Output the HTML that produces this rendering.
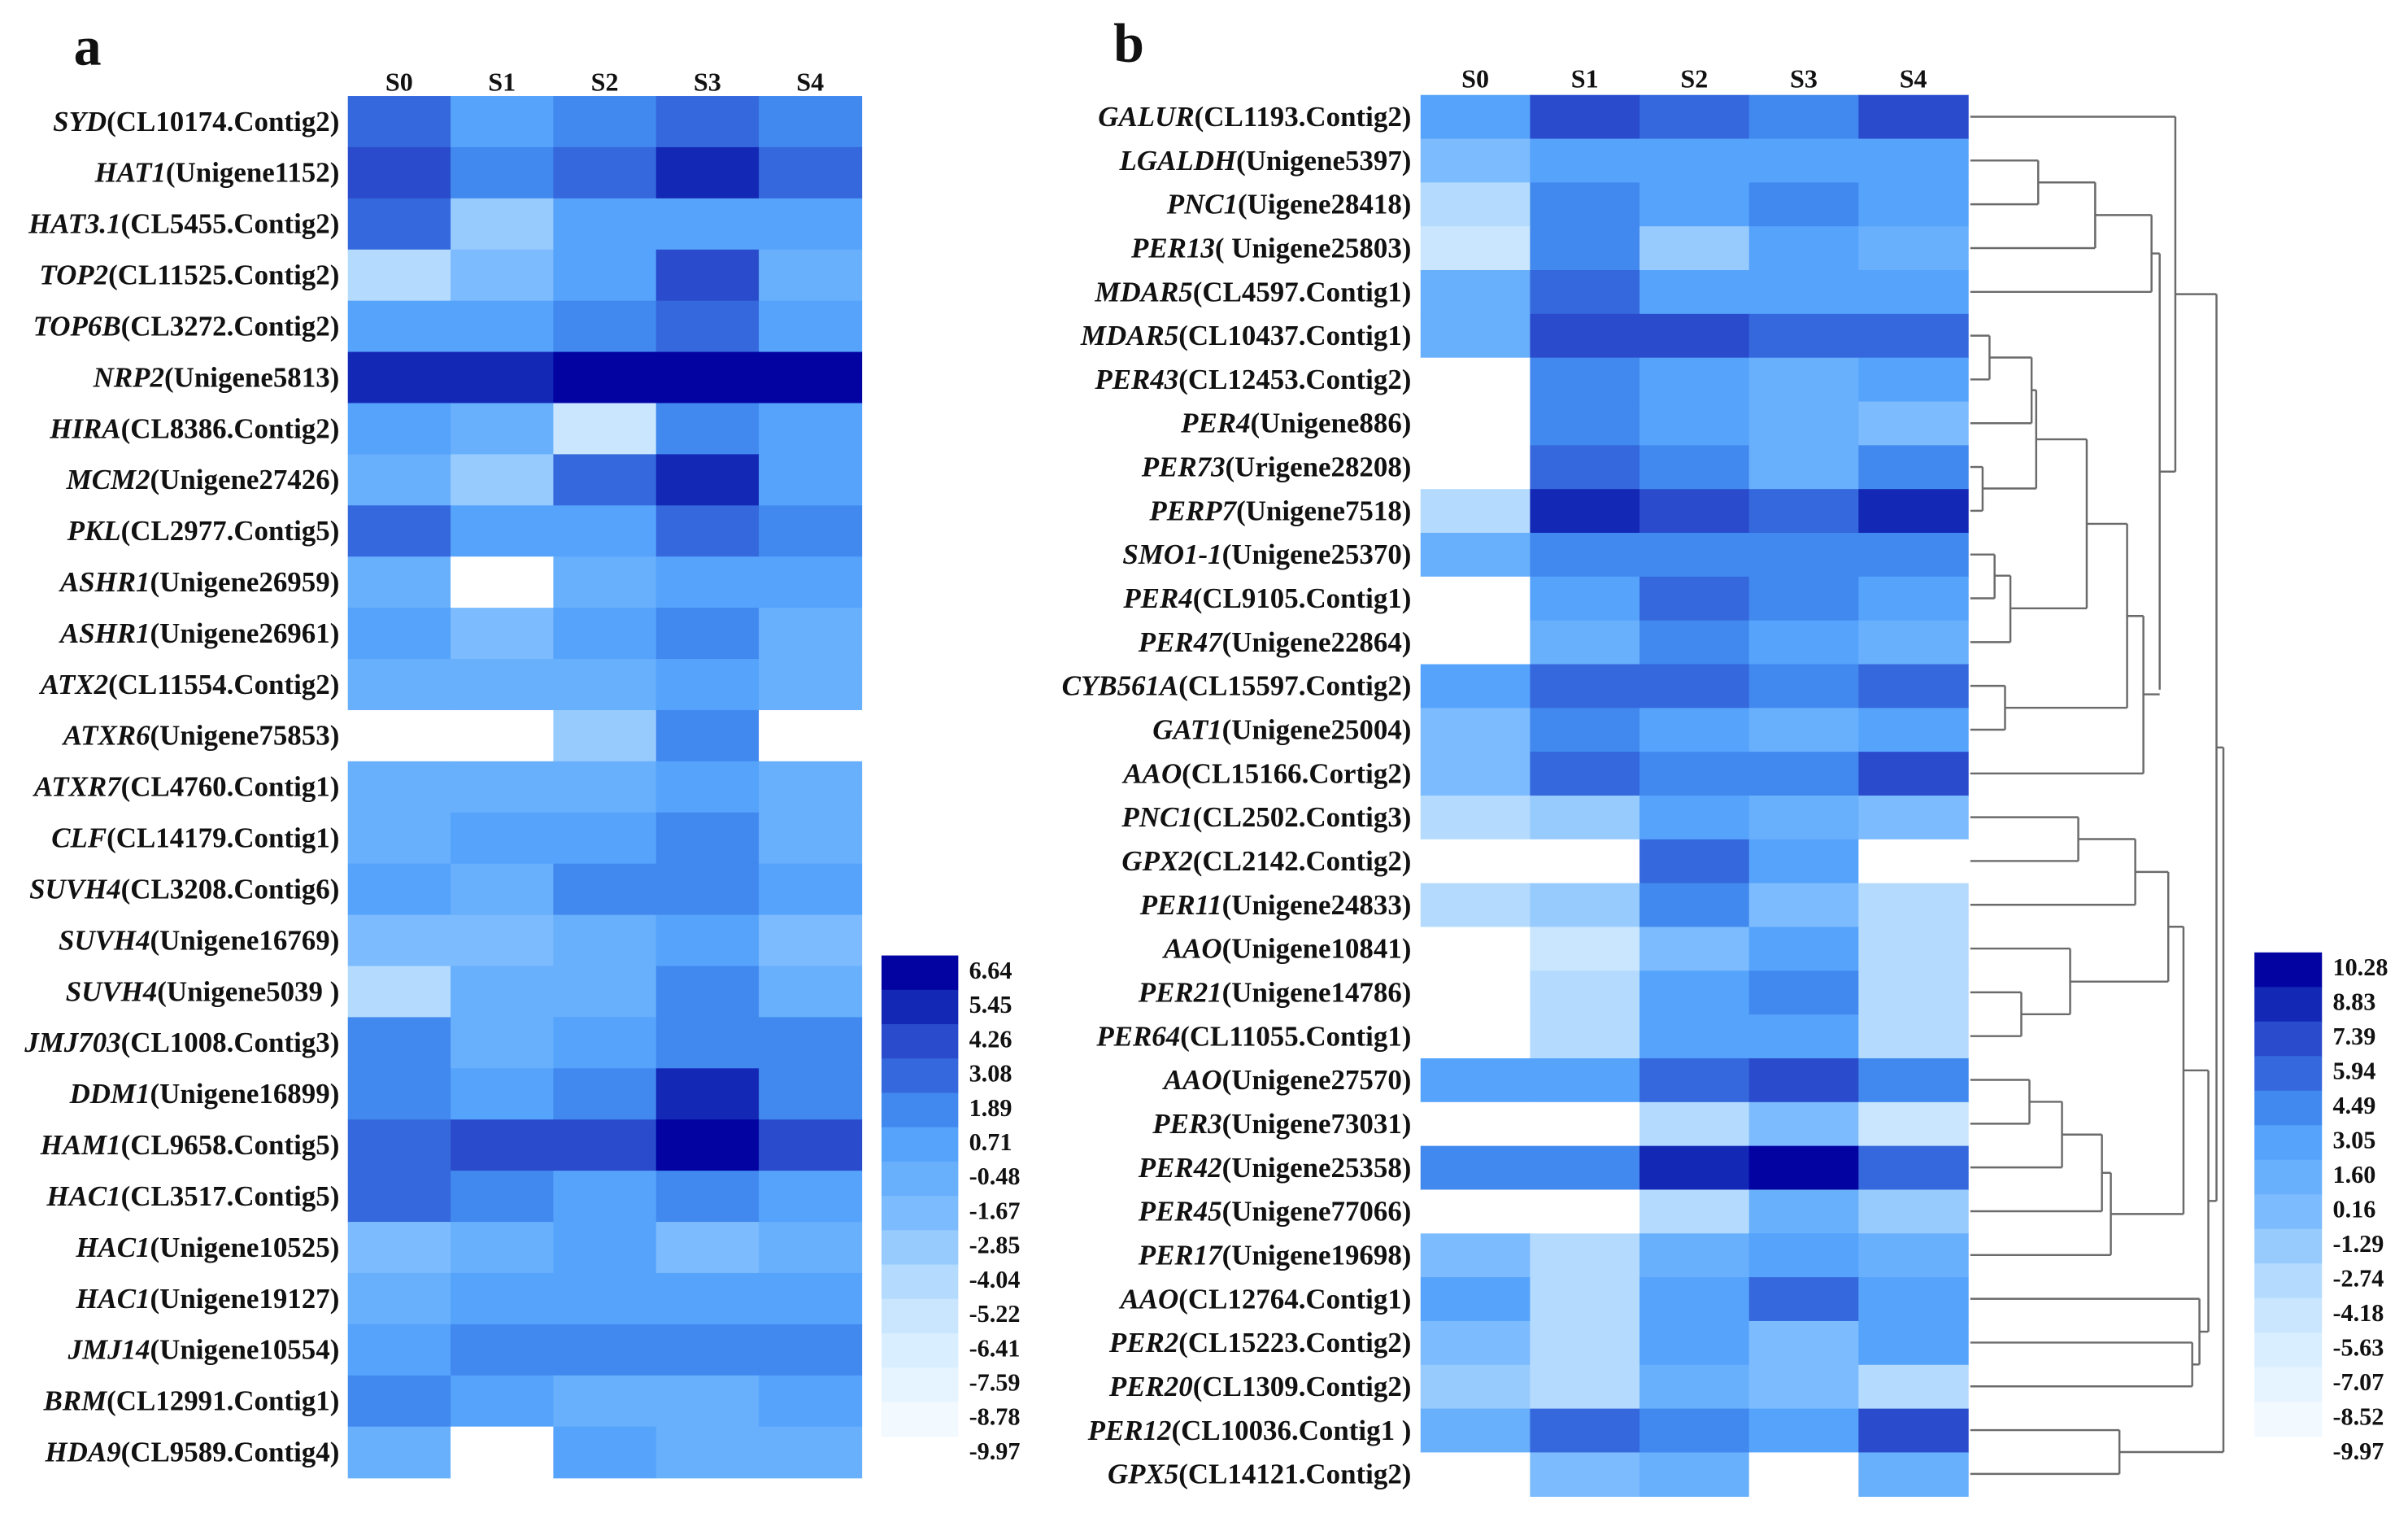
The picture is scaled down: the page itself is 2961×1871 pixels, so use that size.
<!DOCTYPE html>
<html><head><meta charset="utf-8"><style>
html,body{margin:0;padding:0;background:#fff;}
svg{display:block;}
text{font-family:"Liberation Serif",serif;font-weight:bold;fill:#111;}
</style></head><body>
<svg id="fig" xmlns="http://www.w3.org/2000/svg" width="2961" height="1871" viewBox="0 0 1568 990.8" preserveAspectRatio="none">
<rect width="1568" height="991" fill="#fff"/>
<text x="48" y="42" font-size="36">a</text>
<text x="725" y="40" font-size="36">b</text>
<g id="ga"></g>
<g id="gb"></g>
<g id="dendro" stroke="#6a6a6a" stroke-width="1.3" fill="none"></g>
</svg>
<script>
const NS="http://www.w3.org/2000/svg";
const samples=["S0","S1","S2","S3","S4"];
const palette=["#0303a2","#1428b6","#2a4ccc","#3568dc","#4189ee","#56a3fc","#68affc","#7cbbfd","#98cbfd","#b4dbfe","#c9e6fe","#d9eeff","#e6f4ff","#f2f9ff"];
const ticksA=[6.64,5.45,4.26,3.08,1.89,0.71,-0.48,-1.67,-2.85,-4.04,-5.22,-6.41,-7.59,-8.78,-9.97];
const ticksB=[10.28,8.83,7.39,5.94,4.49,3.05,1.60,0.16,-1.29,-2.74,-4.18,-5.63,-7.07,-8.52,-9.97];
const genesA=[["SYD","(CL10174.Contig2)"],["HAT1","(Unigene1152)"],["HAT3.1","(CL5455.Contig2)"],["TOP2","(CL11525.Contig2)"],["TOP6B","(CL3272.Contig2)"],["NRP2","(Unigene5813)"],["HIRA","(CL8386.Contig2)"],["MCM2","(Unigene27426)"],["PKL","(CL2977.Contig5)"],["ASHR1","(Unigene26959)"],["ASHR1","(Unigene26961)"],["ATX2","(CL11554.Contig2)"],["ATXR6","(Unigene75853)"],["ATXR7","(CL4760.Contig1)"],["CLF","(CL14179.Contig1)"],["SUVH4","(CL3208.Contig6)"],["SUVH4","(Unigene16769)"],["SUVH4","(Unigene5039 )"],["JMJ703","(CL1008.Contig3)"],["DDM1","(Unigene16899)"],["HAM1","(CL9658.Contig5)"],["HAC1","(CL3517.Contig5)"],["HAC1","(Unigene10525)"],["HAC1","(Unigene19127)"],["JMJ14","(Unigene10554)"],["BRM","(CL12991.Contig1)"],["HDA9","(CL9589.Contig4)"]];
// values in legend units (null = white / below range)
const valuesA=[
[2.5,0.1,1.3,2.5,1.3],[3.7,1.3,2.5,4.9,2.5],[2.5,-3.4,0.1,0.1,0.1],[-4.6,-2.3,0.1,3.7,-1.1],[0.1,0.1,1.3,2.5,0.1],
[4.9,4.9,6.0,6.0,6.0],[0.1,-1.1,-5.8,1.3,0.1],[-1.1,-3.4,2.5,4.9,0.1],[2.5,0.1,0.1,2.5,1.3],[-1.1,null,-1.1,0.1,0.1],
[0.1,-2.3,0.1,1.3,-1.1],[-1.1,-1.1,-1.1,0.1,-1.1],[null,null,-3.4,1.3,null],[-1.1,-1.1,-1.1,0.1,-1.1],[-1.1,0.1,0.1,1.3,-1.1],
[0.1,-1.1,1.3,1.3,0.1],[-2.3,-2.3,-1.1,0.1,-2.3],[-4.6,-1.1,-1.1,1.3,-1.1],[1.3,-1.1,0.1,1.3,1.3],[1.3,0.1,1.3,4.9,1.3],
[2.5,3.7,3.7,6.0,3.7],[2.5,1.3,0.1,1.3,0.1],[-2.3,-1.1,0.1,-2.3,-1.1],[-1.1,0.1,0.1,0.1,0.1],[0.1,1.3,1.3,1.3,1.3],
[1.3,0.1,-1.1,-1.1,0.1],[-1.1,null,0.1,-1.1,-1.1]];
const genesB=[["GALUR","(CL1193.Contig2)"],["LGALDH","(Unigene5397)"],["PNC1","(Uigene28418)"],["PER13","( Unigene25803)"],["MDAR5","(CL4597.Contig1)"],["MDAR5","(CL10437.Contig1)"],["PER43","(CL12453.Contig2)"],["PER4","(Unigene886)"],["PER73","(Urigene28208)"],["PERP7","(Unigene7518)"],["SMO1-1","(Unigene25370)"],["PER4","(CL9105.Contig1)"],["PER47","(Unigene22864)"],["CYB561A","(CL15597.Contig2)"],["GAT1","(Unigene25004)"],["AAO","(CL15166.Cortig2)"],["PNC1","(CL2502.Contig3)"],["GPX2","(CL2142.Contig2)"],["PER11","(Unigene24833)"],["AAO","(Unigene10841)"],["PER21","(Unigene14786)"],["PER64","(CL11055.Contig1)"],["AAO","(Unigene27570)"],["PER3","(Unigene73031)"],["PER42","(Unigene25358)"],["PER45","(Unigene77066)"],["PER17","(Unigene19698)"],["AAO","(CL12764.Contig1)"],["PER2","(CL15223.Contig2)"],["PER20","(CL1309.Contig2)"],["PER12","(CL10036.Contig1 )"],["GPX5","(CL14121.Contig2)"]];
const valuesB=[
[2.3,6.7,5.2,3.8,6.7],[-0.6,2.3,2.3,2.3,2.3],[-3.5,3.8,2.3,3.8,2.3],[-4.9,3.8,-2.0,2.3,0.9],[0.9,5.2,2.3,2.3,2.3],
[0.9,6.7,6.7,5.2,5.2],[null,3.8,2.3,0.9,2.3],[null,3.8,2.3,0.9,-0.6],[null,5.2,3.8,0.9,3.8],[-3.5,8.1,6.7,5.2,8.1],
[0.9,3.8,3.8,3.8,3.8],[null,2.3,5.2,3.8,2.3],[null,0.9,3.8,2.3,0.9],[2.3,5.2,5.2,3.8,5.2],[-0.6,3.8,2.3,0.9,2.3],
[-0.6,5.2,3.8,3.8,6.7],[-3.5,-2.0,2.3,0.9,-0.6],[null,null,5.2,2.3,null],[-3.5,-2.0,3.8,-0.6,-3.5],[null,-4.9,-0.6,2.3,-3.5],
[null,-3.5,2.3,3.8,-3.5],[null,-3.5,2.3,2.3,-3.5],[2.3,2.3,5.2,6.7,3.8],[null,null,-3.5,-0.6,-4.9],[3.8,3.8,8.1,9.6,5.2],
[null,null,-3.5,0.9,-2.0],[-0.6,-3.5,0.9,2.3,0.9],[2.3,-3.5,2.3,5.2,2.3],[-0.6,-3.5,2.3,-0.6,2.3],[-2.0,-3.5,0.9,-0.6,-3.5],
[0.9,5.2,3.8,2.3,6.7],[null,-0.6,0.9,null,0.9]];

function colorFor(v,ticks){
  if(v===null||v<ticks[ticks.length-1])return "#ffffff";
  for(let j=0;j<ticks.length-1;j++){ if(v>=ticks[j+1]) return palette[j]; }
  return "#ffffff";
}
function mk(tag,attrs,parent){const e=document.createElementNS(NS,tag);for(const k in attrs)e.setAttribute(k,attrs[k]);parent.appendChild(e);return e;}

function drawHeat(g,genes,values,ticks,cfg){
  const cw=(cfg.x1-cfg.x0)/samples.length, rh=(cfg.y1-cfg.y0)/genes.length;
  const xPos=i=>cfg.x0+i*cw, yPos=r=>cfg.y0+r*rh;
  samples.forEach((s,i)=>{
    const t=mk("text",{x:xPos(i)+cw/2,y:cfg.hy,"font-size":17,"text-anchor":"middle"},g);
    
    
    t.textContent=s;
  });
  genes.forEach((gn,r)=>{
    values[r].forEach((v,i)=>{
      const c=mk("rect",{x:xPos(i),y:yPos(r),width:cw+0.4,height:rh+0.4,fill:colorFor(v,ticks)},g);
      
      
    });
    const t=mk("text",{x:cfg.lx,y:yPos(r)+rh/2+6,"font-size":18.5,"text-anchor":"end"},g);
    
    
    const a=mk("tspan",{"font-style":"italic"},t);a.textContent=gn[0];
    const b=mk("tspan",{},t);b.textContent=gn[1];
  });
  const lh=(cfg.ly1-cfg.ly0)/(ticks.length-1);
  for(let j=0;j<ticks.length-1;j++){
    const c=mk("rect",{x:cfg.lgx0,y:cfg.ly0+j*lh,width:cfg.lgx1-cfg.lgx0,height:lh+0.4,fill:palette[j]},g);
    
    
  }
  ticks.forEach((tv,j)=>{
    const t=mk("text",{x:cfg.lgx1+7,y:cfg.ly0+j*lh+15,"font-size":16},g);
    
    
    t.textContent=tv.toFixed(2);
  });
}
drawHeat(document.getElementById("ga"),genesA,valuesA,ticksA,{x0:226.5,x1:561,y0:62.5,y1:962,hy:59,lx:221,lgx0:574,lgx1:624,ly0:622,ly1:935});
drawHeat(document.getElementById("gb"),genesB,valuesB,ticksB,{x0:925,x1:1281.5,y0:61.8,y1:974,hy:57,lx:919,lgx0:1468,lgx1:1512,ly0:620,ly1:935});

const rowY=r=>76+28.5*(r-1);
const L=1283;
const segs=[];
function h(x1,x2,y){segs.push([x1,y,x2,y]);}
function v(x,y1,y2){segs.push([x,y1,x,y2]);}
function leaf(r,x){h(L,x,rowY(r));}
leaf(1,1416.5); leaf(2,1327.2); leaf(3,1327.2); v(1327.2,rowY(2),rowY(3));
h(1327.2,1364.3,118.75); leaf(4,1364.3); v(1364.3,118.75,rowY(4));
h(1364.3,1401,140); leaf(5,1401); v(1401,140,rowY(5));
h(1401,1406.3,165); v(1406.3,165,449); h(1406.3,1416.5,307); v(1416.5,rowY(1),307);
leaf(6,1295.5); leaf(7,1295.5); v(1295.5,rowY(6),rowY(7));
h(1295.5,1322.9,232.75); leaf(8,1322.9); v(1322.9,232.75,rowY(8));
leaf(9,1291); leaf(10,1291); v(1291,rowY(9),rowY(10));
h(1322.9,1325.9,254); h(1291,1325.9,318); v(1325.9,254,318);
leaf(11,1298.8); leaf(12,1298.8); v(1298.8,rowY(11),rowY(12));
h(1298.8,1309.1,374.75); leaf(13,1309.1); v(1309.1,374.75,rowY(13));
h(1325.9,1358.8,286); h(1309.1,1358.8,396); v(1358.8,286,396);
leaf(14,1305.6); leaf(15,1305.6); v(1305.6,rowY(14),rowY(15));
h(1358.8,1385.1,341); h(1305.6,1385.1,460.75); v(1385.1,341,460.75);
h(1385.1,1395.7,401); leaf(16,1395.7); v(1395.7,401,rowY(16));
h(1395.7,1406.3,452);
h(1416.5,1443.3,191.5);
leaf(17,1353.3); leaf(18,1353.3); v(1353.3,rowY(17),rowY(18));
h(1353.3,1390.4,546.25); leaf(19,1390.4); v(1390.4,546.25,rowY(19));
leaf(21,1316.2); leaf(22,1316.2); v(1316.2,rowY(21),rowY(22));
leaf(20,1348); h(1316.2,1348,660.25); v(1348,rowY(20),660.25);
h(1390.4,1411.9,567.6); h(1348,1411.9,639); v(1411.9,567.6,639);
leaf(23,1321.5); leaf(24,1321.5); v(1321.5,rowY(23),rowY(24));
h(1321.5,1342.7,717.25); leaf(25,1342.7); v(1342.7,717.25,rowY(25));
h(1342.7,1368.7,738.6); leaf(26,1368.7); v(1368.7,738.6,rowY(26));
h(1368.7,1374.5,763.5); leaf(27,1374.5); v(1374.5,763.5,rowY(27));
h(1411.9,1421.8,603.3); h(1374.5,1421.8,790.3); v(1421.8,603.3,790.3);
leaf(29,1427.5); leaf(30,1427.5); v(1427.5,rowY(29),rowY(30));
leaf(28,1432.2); h(1427.5,1432.2,888.25); v(1432.2,rowY(28),888.25);
h(1421.8,1438,696.8); h(1432.2,1438,866.9); v(1438,696.8,866.9);
h(1438,1443.3,781.8); v(1443.3,191.5,781.8);
leaf(31,1380.1); leaf(32,1380.1); v(1380.1,rowY(31),rowY(32));
h(1443.3,1447.8,486.6); h(1380.1,1447.8,945.25); v(1447.8,486.6,945.25);
const dg=document.getElementById("dendro");
segs.forEach(s=>{
  const l=mk("line",{x1:s[0],y1:s[1],x2:s[2],y2:s[3]},dg);
  
  
});
</script>
</body></html>
